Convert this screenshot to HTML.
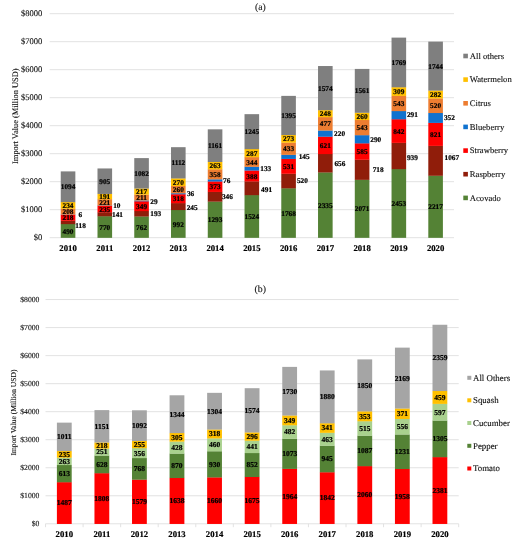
<!DOCTYPE html>
<html><head><meta charset="utf-8"><title>Import Value charts</title>
<style>html,body{margin:0;padding:0;background:#fff}svg{display:block}text{text-rendering:geometricPrecision;font-family:"Liberation Serif", "DejaVu Serif", serif;fill:#111;stroke:#111;stroke-width:0.12px}.b{font-weight:bold;fill:#000;stroke:#000;stroke-width:0.2px}</style>
</head><body>
<svg width="521" height="550" viewBox="0 0 521 550">
<rect width="521" height="550" fill="#ffffff"/>
<line x1="49.67" x2="454.00" y1="237.70" y2="237.70" stroke="#dfdfdf" stroke-width="0.9"/>
<text x="42.17" y="240.00" font-size="8.5" text-anchor="end">$0</text>
<line x1="49.67" x2="454.00" y1="209.70" y2="209.70" stroke="#dfdfdf" stroke-width="0.9"/>
<text x="42.17" y="212.00" font-size="8.5" text-anchor="end">$1000</text>
<line x1="49.67" x2="454.00" y1="181.70" y2="181.70" stroke="#dfdfdf" stroke-width="0.9"/>
<text x="42.17" y="184.00" font-size="8.5" text-anchor="end">$2000</text>
<line x1="49.67" x2="454.00" y1="153.70" y2="153.70" stroke="#dfdfdf" stroke-width="0.9"/>
<text x="42.17" y="156.00" font-size="8.5" text-anchor="end">$3000</text>
<line x1="49.67" x2="454.00" y1="125.70" y2="125.70" stroke="#dfdfdf" stroke-width="0.9"/>
<text x="42.17" y="128.00" font-size="8.5" text-anchor="end">$4000</text>
<line x1="49.67" x2="454.00" y1="97.70" y2="97.70" stroke="#dfdfdf" stroke-width="0.9"/>
<text x="42.17" y="100.00" font-size="8.5" text-anchor="end">$5000</text>
<line x1="49.67" x2="454.00" y1="69.70" y2="69.70" stroke="#dfdfdf" stroke-width="0.9"/>
<text x="42.17" y="72.00" font-size="8.5" text-anchor="end">$6000</text>
<line x1="49.67" x2="454.00" y1="41.70" y2="41.70" stroke="#dfdfdf" stroke-width="0.9"/>
<text x="42.17" y="44.00" font-size="8.5" text-anchor="end">$7000</text>
<line x1="49.67" x2="454.00" y1="13.70" y2="13.70" stroke="#dfdfdf" stroke-width="0.9"/>
<text x="42.17" y="16.00" font-size="8.5" text-anchor="end">$8000</text>
<rect x="60.75" y="223.98" width="14.60" height="13.87" fill="#548235"/>
<rect x="97.50" y="216.14" width="14.60" height="21.71" fill="#548235"/>
<rect x="134.26" y="216.36" width="14.60" height="21.49" fill="#548235"/>
<rect x="171.01" y="209.92" width="14.60" height="27.93" fill="#548235"/>
<rect x="207.77" y="201.50" width="14.60" height="36.35" fill="#548235"/>
<rect x="244.52" y="195.03" width="14.60" height="42.82" fill="#548235"/>
<rect x="281.28" y="188.20" width="14.60" height="49.65" fill="#548235"/>
<rect x="318.03" y="172.32" width="14.60" height="65.53" fill="#548235"/>
<rect x="354.79" y="179.71" width="14.60" height="58.14" fill="#548235"/>
<rect x="391.54" y="169.02" width="14.60" height="68.83" fill="#548235"/>
<rect x="428.30" y="175.62" width="14.60" height="62.23" fill="#548235"/>
<rect x="60.75" y="220.68" width="14.60" height="3.45" fill="#901d0a"/>
<rect x="97.50" y="212.19" width="14.60" height="4.10" fill="#901d0a"/>
<rect x="134.26" y="210.96" width="14.60" height="5.55" fill="#901d0a"/>
<rect x="171.01" y="203.06" width="14.60" height="7.01" fill="#901d0a"/>
<rect x="207.77" y="191.81" width="14.60" height="9.84" fill="#901d0a"/>
<rect x="244.52" y="181.28" width="14.60" height="13.90" fill="#901d0a"/>
<rect x="281.28" y="173.64" width="14.60" height="14.71" fill="#901d0a"/>
<rect x="318.03" y="153.95" width="14.60" height="18.52" fill="#901d0a"/>
<rect x="354.79" y="159.61" width="14.60" height="20.25" fill="#901d0a"/>
<rect x="391.54" y="142.72" width="14.60" height="26.44" fill="#901d0a"/>
<rect x="428.30" y="145.75" width="14.60" height="30.03" fill="#901d0a"/>
<rect x="60.75" y="214.57" width="14.60" height="6.25" fill="#ff0000"/>
<rect x="97.50" y="205.61" width="14.60" height="6.73" fill="#ff0000"/>
<rect x="134.26" y="201.19" width="14.60" height="9.92" fill="#ff0000"/>
<rect x="171.01" y="194.16" width="14.60" height="9.05" fill="#ff0000"/>
<rect x="207.77" y="181.36" width="14.60" height="10.59" fill="#ff0000"/>
<rect x="244.52" y="170.42" width="14.60" height="11.01" fill="#ff0000"/>
<rect x="281.28" y="158.77" width="14.60" height="15.02" fill="#ff0000"/>
<rect x="318.03" y="136.56" width="14.60" height="17.54" fill="#ff0000"/>
<rect x="354.79" y="143.23" width="14.60" height="16.53" fill="#ff0000"/>
<rect x="391.54" y="119.15" width="14.60" height="23.73" fill="#ff0000"/>
<rect x="428.30" y="122.76" width="14.60" height="23.14" fill="#ff0000"/>
<rect x="60.75" y="214.40" width="14.60" height="0.32" fill="#0f72cf"/>
<rect x="97.50" y="205.33" width="14.60" height="0.43" fill="#0f72cf"/>
<rect x="134.26" y="200.38" width="14.60" height="0.96" fill="#0f72cf"/>
<rect x="171.01" y="193.15" width="14.60" height="1.16" fill="#0f72cf"/>
<rect x="207.77" y="179.24" width="14.60" height="2.28" fill="#0f72cf"/>
<rect x="244.52" y="166.69" width="14.60" height="3.87" fill="#0f72cf"/>
<rect x="281.28" y="154.71" width="14.60" height="4.21" fill="#0f72cf"/>
<rect x="318.03" y="130.40" width="14.60" height="6.31" fill="#0f72cf"/>
<rect x="354.79" y="135.11" width="14.60" height="8.27" fill="#0f72cf"/>
<rect x="391.54" y="111.00" width="14.60" height="8.30" fill="#0f72cf"/>
<rect x="428.30" y="112.90" width="14.60" height="10.01" fill="#0f72cf"/>
<rect x="60.75" y="208.58" width="14.60" height="5.97" fill="#ed7d31"/>
<rect x="97.50" y="199.14" width="14.60" height="6.34" fill="#ed7d31"/>
<rect x="134.26" y="194.47" width="14.60" height="6.06" fill="#ed7d31"/>
<rect x="171.01" y="185.87" width="14.60" height="7.43" fill="#ed7d31"/>
<rect x="207.77" y="169.21" width="14.60" height="10.17" fill="#ed7d31"/>
<rect x="244.52" y="157.06" width="14.60" height="9.78" fill="#ed7d31"/>
<rect x="281.28" y="142.58" width="14.60" height="12.27" fill="#ed7d31"/>
<rect x="318.03" y="117.05" width="14.60" height="13.51" fill="#ed7d31"/>
<rect x="354.79" y="119.90" width="14.60" height="15.35" fill="#ed7d31"/>
<rect x="391.54" y="95.80" width="14.60" height="15.35" fill="#ed7d31"/>
<rect x="428.30" y="98.34" width="14.60" height="14.71" fill="#ed7d31"/>
<rect x="60.75" y="202.03" width="14.60" height="6.70" fill="#ffc000"/>
<rect x="97.50" y="193.80" width="14.60" height="5.50" fill="#ffc000"/>
<rect x="134.26" y="188.39" width="14.60" height="6.23" fill="#ffc000"/>
<rect x="171.01" y="178.31" width="14.60" height="7.71" fill="#ffc000"/>
<rect x="207.77" y="161.85" width="14.60" height="7.51" fill="#ffc000"/>
<rect x="244.52" y="149.02" width="14.60" height="8.19" fill="#ffc000"/>
<rect x="281.28" y="134.94" width="14.60" height="7.79" fill="#ffc000"/>
<rect x="318.03" y="110.10" width="14.60" height="7.09" fill="#ffc000"/>
<rect x="354.79" y="112.62" width="14.60" height="7.43" fill="#ffc000"/>
<rect x="391.54" y="87.14" width="14.60" height="8.80" fill="#ffc000"/>
<rect x="428.30" y="90.45" width="14.60" height="8.05" fill="#ffc000"/>
<rect x="60.75" y="171.40" width="14.60" height="30.78" fill="#7f7f7f"/>
<rect x="97.50" y="168.46" width="14.60" height="25.49" fill="#7f7f7f"/>
<rect x="134.26" y="158.10" width="14.60" height="30.45" fill="#7f7f7f"/>
<rect x="171.01" y="147.18" width="14.60" height="31.29" fill="#7f7f7f"/>
<rect x="207.77" y="129.34" width="14.60" height="32.66" fill="#7f7f7f"/>
<rect x="244.52" y="114.16" width="14.60" height="35.01" fill="#7f7f7f"/>
<rect x="281.28" y="95.88" width="14.60" height="39.21" fill="#7f7f7f"/>
<rect x="318.03" y="66.03" width="14.60" height="44.22" fill="#7f7f7f"/>
<rect x="354.79" y="68.92" width="14.60" height="43.86" fill="#7f7f7f"/>
<rect x="391.54" y="37.61" width="14.60" height="49.68" fill="#7f7f7f"/>
<rect x="428.30" y="41.62" width="14.60" height="48.98" fill="#7f7f7f"/>
<text x="68.05" y="233.55" font-size="7.3" text-anchor="middle" class="b">490</text>
<text x="104.80" y="229.63" font-size="7.3" text-anchor="middle" class="b">770</text>
<text x="141.56" y="229.74" font-size="7.3" text-anchor="middle" class="b">762</text>
<text x="178.31" y="226.52" font-size="7.3" text-anchor="middle" class="b">992</text>
<text x="215.07" y="222.31" font-size="7.3" text-anchor="middle" class="b">1293</text>
<text x="251.82" y="219.07" font-size="7.3" text-anchor="middle" class="b">1524</text>
<text x="288.58" y="215.66" font-size="7.3" text-anchor="middle" class="b">1768</text>
<text x="325.33" y="207.72" font-size="7.3" text-anchor="middle" class="b">2335</text>
<text x="362.09" y="211.41" font-size="7.3" text-anchor="middle" class="b">2071</text>
<text x="398.84" y="206.07" font-size="7.3" text-anchor="middle" class="b">2453</text>
<text x="435.60" y="209.37" font-size="7.3" text-anchor="middle" class="b">2217</text>
<text x="75.30" y="227.91" font-size="7.3" text-anchor="start" class="b">118</text>
<text x="112.00" y="216.91" font-size="7.3" text-anchor="start" class="b">141</text>
<text x="150.30" y="216.01" font-size="7.3" text-anchor="start" class="b">193</text>
<text x="186.70" y="209.71" font-size="7.3" text-anchor="start" class="b">245</text>
<text x="221.90" y="199.01" font-size="7.3" text-anchor="start" class="b">346</text>
<text x="261.10" y="192.01" font-size="7.3" text-anchor="start" class="b">491</text>
<text x="296.90" y="182.91" font-size="7.3" text-anchor="start" class="b">520</text>
<text x="334.40" y="165.51" font-size="7.3" text-anchor="start" class="b">656</text>
<text x="372.70" y="172.11" font-size="7.3" text-anchor="start" class="b">718</text>
<text x="406.90" y="160.41" font-size="7.3" text-anchor="start" class="b">939</text>
<text x="444.50" y="160.01" font-size="7.3" text-anchor="start" class="b">1067</text>
<text x="68.05" y="220.33" font-size="7.3" text-anchor="middle" class="b">218</text>
<text x="104.80" y="211.61" font-size="7.3" text-anchor="middle" class="b">235</text>
<text x="141.56" y="208.78" font-size="7.3" text-anchor="middle" class="b">349</text>
<text x="178.31" y="201.32" font-size="7.3" text-anchor="middle" class="b">318</text>
<text x="215.07" y="189.29" font-size="7.3" text-anchor="middle" class="b">373</text>
<text x="251.82" y="178.56" font-size="7.3" text-anchor="middle" class="b">388</text>
<text x="288.58" y="168.91" font-size="7.3" text-anchor="middle" class="b">531</text>
<text x="325.33" y="147.97" font-size="7.3" text-anchor="middle" class="b">621</text>
<text x="362.09" y="154.13" font-size="7.3" text-anchor="middle" class="b">585</text>
<text x="398.84" y="133.64" font-size="7.3" text-anchor="middle" class="b">842</text>
<text x="435.60" y="136.96" font-size="7.3" text-anchor="middle" class="b">821</text>
<text x="78.60" y="216.91" font-size="7.3" text-anchor="start" class="b">6</text>
<text x="113.20" y="207.81" font-size="7.3" text-anchor="start" class="b">10</text>
<text x="150.30" y="203.51" font-size="7.3" text-anchor="start" class="b">29</text>
<text x="186.90" y="196.01" font-size="7.3" text-anchor="start" class="b">36</text>
<text x="223.10" y="183.01" font-size="7.3" text-anchor="start" class="b">76</text>
<text x="260.30" y="170.91" font-size="7.3" text-anchor="start" class="b">133</text>
<text x="298.70" y="159.01" font-size="7.3" text-anchor="start" class="b">145</text>
<text x="334.10" y="136.01" font-size="7.3" text-anchor="start" class="b">220</text>
<text x="370.30" y="141.81" font-size="7.3" text-anchor="start" class="b">290</text>
<text x="406.90" y="117.41" font-size="7.3" text-anchor="start" class="b">291</text>
<text x="443.90" y="120.31" font-size="7.3" text-anchor="start" class="b">352</text>
<text x="68.05" y="214.20" font-size="7.3" text-anchor="middle" class="b">208</text>
<text x="104.80" y="204.95" font-size="7.3" text-anchor="middle" class="b">221</text>
<text x="141.56" y="200.13" font-size="7.3" text-anchor="middle" class="b">211</text>
<text x="178.31" y="192.22" font-size="7.3" text-anchor="middle" class="b">260</text>
<text x="215.07" y="176.93" font-size="7.3" text-anchor="middle" class="b">358</text>
<text x="251.82" y="164.59" font-size="7.3" text-anchor="middle" class="b">344</text>
<text x="288.58" y="151.36" font-size="7.3" text-anchor="middle" class="b">433</text>
<text x="325.33" y="126.43" font-size="7.3" text-anchor="middle" class="b">477</text>
<text x="362.09" y="130.21" font-size="7.3" text-anchor="middle" class="b">543</text>
<text x="398.84" y="106.11" font-size="7.3" text-anchor="middle" class="b">543</text>
<text x="435.60" y="108.33" font-size="7.3" text-anchor="middle" class="b">520</text>
<text x="68.05" y="208.01" font-size="7.3" text-anchor="middle" class="b">234</text>
<text x="104.80" y="199.18" font-size="7.3" text-anchor="middle" class="b">191</text>
<text x="141.56" y="194.14" font-size="7.3" text-anchor="middle" class="b">217</text>
<text x="178.31" y="184.80" font-size="7.3" text-anchor="middle" class="b">270</text>
<text x="215.07" y="168.24" font-size="7.3" text-anchor="middle" class="b">263</text>
<text x="251.82" y="155.75" font-size="7.3" text-anchor="middle" class="b">287</text>
<text x="288.58" y="141.47" font-size="7.3" text-anchor="middle" class="b">273</text>
<text x="325.33" y="116.28" font-size="7.3" text-anchor="middle" class="b">248</text>
<text x="362.09" y="118.97" font-size="7.3" text-anchor="middle" class="b">260</text>
<text x="398.84" y="94.18" font-size="7.3" text-anchor="middle" class="b">309</text>
<text x="435.60" y="97.10" font-size="7.3" text-anchor="middle" class="b">282</text>
<text x="68.05" y="189.42" font-size="7.3" text-anchor="middle" class="b">1094</text>
<text x="104.80" y="183.83" font-size="7.3" text-anchor="middle" class="b">905</text>
<text x="141.56" y="175.95" font-size="7.3" text-anchor="middle" class="b">1082</text>
<text x="178.31" y="165.45" font-size="7.3" text-anchor="middle" class="b">1112</text>
<text x="215.07" y="148.30" font-size="7.3" text-anchor="middle" class="b">1161</text>
<text x="251.82" y="134.30" font-size="7.3" text-anchor="middle" class="b">1245</text>
<text x="288.58" y="118.12" font-size="7.3" text-anchor="middle" class="b">1395</text>
<text x="325.33" y="90.78" font-size="7.3" text-anchor="middle" class="b">1574</text>
<text x="362.09" y="93.48" font-size="7.3" text-anchor="middle" class="b">1561</text>
<text x="398.84" y="65.09" font-size="7.3" text-anchor="middle" class="b">1769</text>
<text x="435.60" y="68.74" font-size="7.3" text-anchor="middle" class="b">1744</text>
<text x="68.05" y="250.90" font-size="8.7" text-anchor="middle" class="b">2010</text>
<text x="104.80" y="250.90" font-size="8.7" text-anchor="middle" class="b">2011</text>
<text x="141.56" y="250.90" font-size="8.7" text-anchor="middle" class="b">2012</text>
<text x="178.31" y="250.90" font-size="8.7" text-anchor="middle" class="b">2013</text>
<text x="215.07" y="250.90" font-size="8.7" text-anchor="middle" class="b">2014</text>
<text x="251.82" y="250.90" font-size="8.7" text-anchor="middle" class="b">2015</text>
<text x="288.58" y="250.90" font-size="8.7" text-anchor="middle" class="b">2016</text>
<text x="325.33" y="250.90" font-size="8.7" text-anchor="middle" class="b">2017</text>
<text x="362.09" y="250.90" font-size="8.7" text-anchor="middle" class="b">2018</text>
<text x="398.84" y="250.90" font-size="8.7" text-anchor="middle" class="b">2019</text>
<text x="435.60" y="250.90" font-size="8.7" text-anchor="middle" class="b">2020</text>
<line x1="45.52" x2="458.70" y1="523.80" y2="523.80" stroke="#dfdfdf" stroke-width="0.9"/>
<text x="39.42" y="525.84" font-size="7.7" text-anchor="end">$0</text>
<line x1="45.52" x2="458.70" y1="495.77" y2="495.77" stroke="#dfdfdf" stroke-width="0.9"/>
<text x="39.42" y="497.81" font-size="7.7" text-anchor="end">$1000</text>
<line x1="45.52" x2="458.70" y1="467.74" y2="467.74" stroke="#dfdfdf" stroke-width="0.9"/>
<text x="39.42" y="469.78" font-size="7.7" text-anchor="end">$2000</text>
<line x1="45.52" x2="458.70" y1="439.71" y2="439.71" stroke="#dfdfdf" stroke-width="0.9"/>
<text x="39.42" y="441.75" font-size="7.7" text-anchor="end">$3000</text>
<line x1="45.52" x2="458.70" y1="411.68" y2="411.68" stroke="#dfdfdf" stroke-width="0.9"/>
<text x="39.42" y="413.72" font-size="7.7" text-anchor="end">$4000</text>
<line x1="45.52" x2="458.70" y1="383.65" y2="383.65" stroke="#dfdfdf" stroke-width="0.9"/>
<text x="39.42" y="385.69" font-size="7.7" text-anchor="end">$5000</text>
<line x1="45.52" x2="458.70" y1="355.62" y2="355.62" stroke="#dfdfdf" stroke-width="0.9"/>
<text x="39.42" y="357.66" font-size="7.7" text-anchor="end">$6000</text>
<line x1="45.52" x2="458.70" y1="327.59" y2="327.59" stroke="#dfdfdf" stroke-width="0.9"/>
<text x="39.42" y="329.63" font-size="7.7" text-anchor="end">$7000</text>
<line x1="45.52" x2="458.70" y1="299.56" y2="299.56" stroke="#dfdfdf" stroke-width="0.9"/>
<text x="39.42" y="301.60" font-size="7.7" text-anchor="end">$8000</text>
<line x1="45.52" x2="45.52" y1="523.80" y2="527.20" stroke="#dfdfdf" stroke-width="0.9"/>
<line x1="83.08" x2="83.08" y1="523.80" y2="527.20" stroke="#dfdfdf" stroke-width="0.9"/>
<line x1="120.64" x2="120.64" y1="523.80" y2="527.20" stroke="#dfdfdf" stroke-width="0.9"/>
<line x1="158.20" x2="158.20" y1="523.80" y2="527.20" stroke="#dfdfdf" stroke-width="0.9"/>
<line x1="195.76" x2="195.76" y1="523.80" y2="527.20" stroke="#dfdfdf" stroke-width="0.9"/>
<line x1="233.32" x2="233.32" y1="523.80" y2="527.20" stroke="#dfdfdf" stroke-width="0.9"/>
<line x1="270.88" x2="270.88" y1="523.80" y2="527.20" stroke="#dfdfdf" stroke-width="0.9"/>
<line x1="308.44" x2="308.44" y1="523.80" y2="527.20" stroke="#dfdfdf" stroke-width="0.9"/>
<line x1="346.00" x2="346.00" y1="523.80" y2="527.20" stroke="#dfdfdf" stroke-width="0.9"/>
<line x1="383.56" x2="383.56" y1="523.80" y2="527.20" stroke="#dfdfdf" stroke-width="0.9"/>
<line x1="421.12" x2="421.12" y1="523.80" y2="527.20" stroke="#dfdfdf" stroke-width="0.9"/>
<line x1="458.68" x2="458.68" y1="523.80" y2="527.20" stroke="#dfdfdf" stroke-width="0.9"/>
<rect x="56.90" y="482.12" width="14.80" height="41.83" fill="#ff0000"/>
<rect x="94.46" y="473.12" width="14.80" height="50.83" fill="#ff0000"/>
<rect x="132.02" y="479.54" width="14.80" height="44.41" fill="#ff0000"/>
<rect x="169.58" y="477.89" width="14.80" height="46.06" fill="#ff0000"/>
<rect x="207.14" y="477.27" width="14.80" height="46.68" fill="#ff0000"/>
<rect x="244.70" y="476.85" width="14.80" height="47.10" fill="#ff0000"/>
<rect x="282.26" y="468.75" width="14.80" height="55.20" fill="#ff0000"/>
<rect x="319.82" y="472.17" width="14.80" height="51.78" fill="#ff0000"/>
<rect x="357.38" y="466.06" width="14.80" height="57.89" fill="#ff0000"/>
<rect x="394.94" y="468.92" width="14.80" height="55.03" fill="#ff0000"/>
<rect x="432.50" y="457.06" width="14.80" height="66.89" fill="#ff0000"/>
<rect x="56.90" y="464.94" width="14.80" height="17.33" fill="#548235"/>
<rect x="94.46" y="455.52" width="14.80" height="17.75" fill="#548235"/>
<rect x="132.02" y="458.01" width="14.80" height="21.68" fill="#548235"/>
<rect x="169.58" y="453.50" width="14.80" height="24.54" fill="#548235"/>
<rect x="207.14" y="451.20" width="14.80" height="26.22" fill="#548235"/>
<rect x="244.70" y="452.97" width="14.80" height="24.03" fill="#548235"/>
<rect x="282.26" y="438.67" width="14.80" height="30.23" fill="#548235"/>
<rect x="319.82" y="445.68" width="14.80" height="26.64" fill="#548235"/>
<rect x="357.38" y="435.59" width="14.80" height="30.62" fill="#548235"/>
<rect x="394.94" y="434.41" width="14.80" height="34.65" fill="#548235"/>
<rect x="432.50" y="420.48" width="14.80" height="36.73" fill="#548235"/>
<rect x="56.90" y="457.57" width="14.80" height="7.52" fill="#a9d18e"/>
<rect x="94.46" y="448.48" width="14.80" height="7.19" fill="#a9d18e"/>
<rect x="132.02" y="448.03" width="14.80" height="10.13" fill="#a9d18e"/>
<rect x="169.58" y="441.50" width="14.80" height="12.15" fill="#a9d18e"/>
<rect x="207.14" y="438.31" width="14.80" height="13.04" fill="#a9d18e"/>
<rect x="244.70" y="440.61" width="14.80" height="12.51" fill="#a9d18e"/>
<rect x="282.26" y="425.16" width="14.80" height="13.66" fill="#a9d18e"/>
<rect x="319.82" y="432.70" width="14.80" height="13.13" fill="#a9d18e"/>
<rect x="357.38" y="421.15" width="14.80" height="14.59" fill="#a9d18e"/>
<rect x="394.94" y="418.83" width="14.80" height="15.73" fill="#a9d18e"/>
<rect x="432.50" y="403.75" width="14.80" height="16.88" fill="#a9d18e"/>
<rect x="56.90" y="450.98" width="14.80" height="6.74" fill="#ffc000"/>
<rect x="94.46" y="442.37" width="14.80" height="6.26" fill="#ffc000"/>
<rect x="132.02" y="440.89" width="14.80" height="7.30" fill="#ffc000"/>
<rect x="169.58" y="432.95" width="14.80" height="8.70" fill="#ffc000"/>
<rect x="207.14" y="429.39" width="14.80" height="9.06" fill="#ffc000"/>
<rect x="244.70" y="432.31" width="14.80" height="8.45" fill="#ffc000"/>
<rect x="282.26" y="415.38" width="14.80" height="9.93" fill="#ffc000"/>
<rect x="319.82" y="423.14" width="14.80" height="9.71" fill="#ffc000"/>
<rect x="357.38" y="411.26" width="14.80" height="10.04" fill="#ffc000"/>
<rect x="394.94" y="408.43" width="14.80" height="10.55" fill="#ffc000"/>
<rect x="432.50" y="390.88" width="14.80" height="13.02" fill="#ffc000"/>
<rect x="56.90" y="422.64" width="14.80" height="28.49" fill="#a5a5a5"/>
<rect x="94.46" y="410.11" width="14.80" height="32.41" fill="#a5a5a5"/>
<rect x="132.02" y="410.28" width="14.80" height="30.76" fill="#a5a5a5"/>
<rect x="169.58" y="395.28" width="14.80" height="37.82" fill="#a5a5a5"/>
<rect x="207.14" y="392.84" width="14.80" height="36.70" fill="#a5a5a5"/>
<rect x="244.70" y="388.19" width="14.80" height="44.27" fill="#a5a5a5"/>
<rect x="282.26" y="366.89" width="14.80" height="48.64" fill="#a5a5a5"/>
<rect x="319.82" y="370.45" width="14.80" height="52.85" fill="#a5a5a5"/>
<rect x="357.38" y="359.40" width="14.80" height="52.01" fill="#a5a5a5"/>
<rect x="394.94" y="347.63" width="14.80" height="60.95" fill="#a5a5a5"/>
<rect x="432.50" y="324.76" width="14.80" height="66.27" fill="#a5a5a5"/>
<text x="64.30" y="505.43" font-size="7.5" text-anchor="middle" class="b">1487</text>
<text x="101.86" y="500.94" font-size="7.5" text-anchor="middle" class="b">1808</text>
<text x="139.42" y="504.15" font-size="7.5" text-anchor="middle" class="b">1579</text>
<text x="176.98" y="503.32" font-size="7.5" text-anchor="middle" class="b">1638</text>
<text x="214.54" y="503.01" font-size="7.5" text-anchor="middle" class="b">1660</text>
<text x="252.10" y="502.80" font-size="7.5" text-anchor="middle" class="b">1675</text>
<text x="289.66" y="498.75" font-size="7.5" text-anchor="middle" class="b">1964</text>
<text x="327.22" y="500.46" font-size="7.5" text-anchor="middle" class="b">1842</text>
<text x="364.78" y="497.40" font-size="7.5" text-anchor="middle" class="b">2060</text>
<text x="402.34" y="498.83" font-size="7.5" text-anchor="middle" class="b">1958</text>
<text x="439.90" y="492.91" font-size="7.5" text-anchor="middle" class="b">2381</text>
<text x="64.30" y="476.00" font-size="7.5" text-anchor="middle" class="b">613</text>
<text x="101.86" y="466.80" font-size="7.5" text-anchor="middle" class="b">628</text>
<text x="139.42" y="471.25" font-size="7.5" text-anchor="middle" class="b">768</text>
<text x="176.98" y="468.17" font-size="7.5" text-anchor="middle" class="b">870</text>
<text x="214.54" y="466.71" font-size="7.5" text-anchor="middle" class="b">930</text>
<text x="252.10" y="467.38" font-size="7.5" text-anchor="middle" class="b">852</text>
<text x="289.66" y="456.19" font-size="7.5" text-anchor="middle" class="b">1073</text>
<text x="327.22" y="461.40" font-size="7.5" text-anchor="middle" class="b">945</text>
<text x="364.78" y="453.30" font-size="7.5" text-anchor="middle" class="b">1087</text>
<text x="402.34" y="454.14" font-size="7.5" text-anchor="middle" class="b">1231</text>
<text x="439.90" y="441.25" font-size="7.5" text-anchor="middle" class="b">1305</text>
<text x="64.30" y="463.73" font-size="7.5" text-anchor="middle" class="b">263</text>
<text x="101.86" y="454.48" font-size="7.5" text-anchor="middle" class="b">251</text>
<text x="139.42" y="455.50" font-size="7.5" text-anchor="middle" class="b">356</text>
<text x="176.98" y="449.98" font-size="7.5" text-anchor="middle" class="b">428</text>
<text x="214.54" y="447.23" font-size="7.5" text-anchor="middle" class="b">460</text>
<text x="252.10" y="449.26" font-size="7.5" text-anchor="middle" class="b">441</text>
<text x="289.66" y="434.39" font-size="7.5" text-anchor="middle" class="b">482</text>
<text x="327.22" y="441.67" font-size="7.5" text-anchor="middle" class="b">463</text>
<text x="364.78" y="430.85" font-size="7.5" text-anchor="middle" class="b">515</text>
<text x="402.34" y="429.09" font-size="7.5" text-anchor="middle" class="b">556</text>
<text x="439.90" y="414.59" font-size="7.5" text-anchor="middle" class="b">597</text>
<text x="64.30" y="456.75" font-size="7.5" text-anchor="middle" class="b">235</text>
<text x="101.86" y="447.90" font-size="7.5" text-anchor="middle" class="b">218</text>
<text x="139.42" y="446.94" font-size="7.5" text-anchor="middle" class="b">255</text>
<text x="176.98" y="439.70" font-size="7.5" text-anchor="middle" class="b">305</text>
<text x="214.54" y="436.33" font-size="7.5" text-anchor="middle" class="b">318</text>
<text x="252.10" y="438.93" font-size="7.5" text-anchor="middle" class="b">296</text>
<text x="289.66" y="422.75" font-size="7.5" text-anchor="middle" class="b">349</text>
<text x="327.22" y="430.40" font-size="7.5" text-anchor="middle" class="b">341</text>
<text x="364.78" y="418.68" font-size="7.5" text-anchor="middle" class="b">353</text>
<text x="402.34" y="416.10" font-size="7.5" text-anchor="middle" class="b">371</text>
<text x="439.90" y="399.79" font-size="7.5" text-anchor="middle" class="b">459</text>
<text x="64.30" y="439.28" font-size="7.5" text-anchor="middle" class="b">1011</text>
<text x="101.86" y="428.72" font-size="7.5" text-anchor="middle" class="b">1151</text>
<text x="139.42" y="428.06" font-size="7.5" text-anchor="middle" class="b">1092</text>
<text x="176.98" y="416.59" font-size="7.5" text-anchor="middle" class="b">1344</text>
<text x="214.54" y="413.59" font-size="7.5" text-anchor="middle" class="b">1304</text>
<text x="252.10" y="412.73" font-size="7.5" text-anchor="middle" class="b">1574</text>
<text x="289.66" y="393.61" font-size="7.5" text-anchor="middle" class="b">1730</text>
<text x="327.22" y="399.27" font-size="7.5" text-anchor="middle" class="b">1880</text>
<text x="364.78" y="387.81" font-size="7.5" text-anchor="middle" class="b">1850</text>
<text x="402.34" y="380.50" font-size="7.5" text-anchor="middle" class="b">2169</text>
<text x="439.90" y="360.30" font-size="7.5" text-anchor="middle" class="b">2359</text>
<text x="64.30" y="537.00" font-size="8.7" text-anchor="middle" class="b">2010</text>
<text x="101.86" y="537.00" font-size="8.7" text-anchor="middle" class="b">2011</text>
<text x="139.42" y="537.00" font-size="8.7" text-anchor="middle" class="b">2012</text>
<text x="176.98" y="537.00" font-size="8.7" text-anchor="middle" class="b">2013</text>
<text x="214.54" y="537.00" font-size="8.7" text-anchor="middle" class="b">2014</text>
<text x="252.10" y="537.00" font-size="8.7" text-anchor="middle" class="b">2015</text>
<text x="289.66" y="537.00" font-size="8.7" text-anchor="middle" class="b">2016</text>
<text x="327.22" y="537.00" font-size="8.7" text-anchor="middle" class="b">2017</text>
<text x="364.78" y="537.00" font-size="8.7" text-anchor="middle" class="b">2018</text>
<text x="402.34" y="537.00" font-size="8.7" text-anchor="middle" class="b">2019</text>
<text x="439.90" y="537.00" font-size="8.7" text-anchor="middle" class="b">2020</text>
<text x="260.40" y="10.10" font-size="9.7" text-anchor="middle">(a)</text>
<text x="260.30" y="292.00" font-size="9.8" text-anchor="middle">(b)</text>
<text transform="translate(17.6,116.2) rotate(-90)" font-size="8.4" text-anchor="middle">Import Value (Million  USD)</text>
<text transform="translate(15.7,412.6) rotate(-90)" font-size="7.55" text-anchor="middle">Import Value (Million USD)</text>
<rect x="463.3" y="53.70" width="4.6" height="4.6" fill="#7f7f7f"/>
<text x="469.80" y="58.80" font-size="8.65" text-anchor="start">All others</text>
<rect x="463.3" y="77.30" width="4.6" height="4.6" fill="#ffc000"/>
<text x="469.80" y="82.40" font-size="8.65" text-anchor="start">Watermelon</text>
<rect x="463.3" y="101.00" width="4.6" height="4.6" fill="#ed7d31"/>
<text x="469.80" y="106.10" font-size="8.65" text-anchor="start">Citrus</text>
<rect x="463.3" y="124.60" width="4.6" height="4.6" fill="#0f72cf"/>
<text x="469.80" y="129.70" font-size="8.65" text-anchor="start">Blueberry</text>
<rect x="463.3" y="148.30" width="4.6" height="4.6" fill="#ff0000"/>
<text x="469.80" y="153.40" font-size="8.65" text-anchor="start">Strawberry</text>
<rect x="463.3" y="171.90" width="4.6" height="4.6" fill="#901d0a"/>
<text x="469.80" y="177.00" font-size="8.65" text-anchor="start">Raspberry</text>
<rect x="463.3" y="195.60" width="4.6" height="4.6" fill="#548235"/>
<text x="469.80" y="200.70" font-size="8.65" text-anchor="start">Acovado</text>
<rect x="467.3" y="375.80" width="4.0" height="4.0" fill="#a5a5a5"/>
<text x="473.00" y="380.70" font-size="8.85" text-anchor="start">All Others</text>
<rect x="467.3" y="398.30" width="4.0" height="4.0" fill="#ffc000"/>
<text x="473.00" y="403.20" font-size="8.85" text-anchor="start">Squash</text>
<rect x="467.3" y="421.00" width="4.0" height="4.0" fill="#a9d18e"/>
<text x="473.00" y="425.90" font-size="8.85" text-anchor="start">Cucumber</text>
<rect x="467.3" y="443.80" width="4.0" height="4.0" fill="#548235"/>
<text x="473.00" y="448.70" font-size="8.85" text-anchor="start">Pepper</text>
<rect x="467.3" y="466.50" width="4.0" height="4.0" fill="#ff0000"/>
<text x="473.00" y="471.40" font-size="8.85" text-anchor="start">Tomato</text>
</svg>
</body></html>
